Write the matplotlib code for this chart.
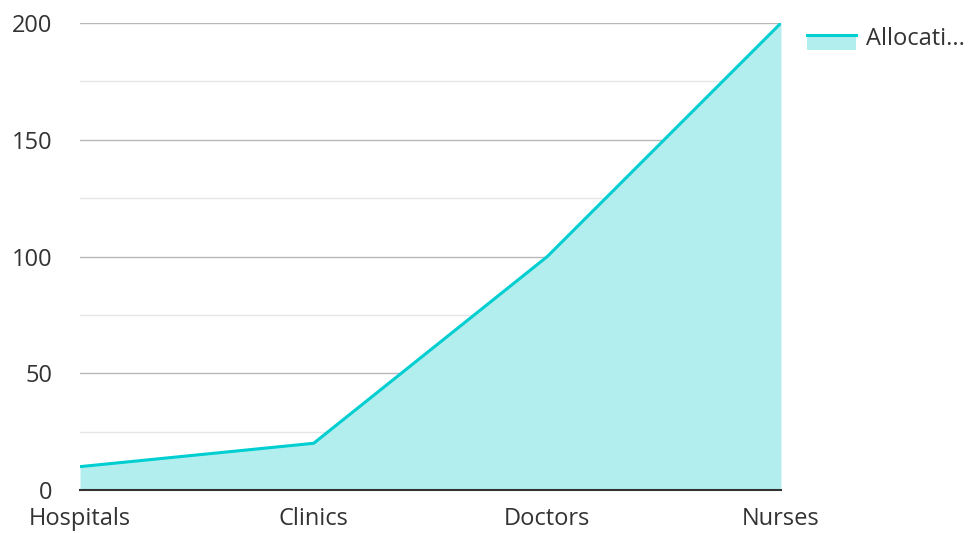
import matplotlib.pyplot as plt
from matplotlib.legend_handler import HandlerBase
from matplotlib.patches import Rectangle
from matplotlib.lines import Line2D

plt.rcParams['font.family'] = ['Open Sans', 'DejaVu Sans']

categories = ['Hospitals', 'Clinics', 'Doctors', 'Nurses']
allocation = [10, 20, 100, 200]
legend_label = 'Allocati...'
line_color = '#00CED1'
fill_color = '#B2EEEE'


class AreaHandler(HandlerBase):
    # filled box with the line along its top edge
    def create_artists(self, legend, orig_handle, xdescent, ydescent,
                       width, height, fontsize, trans):
        top = height * 0.62
        bottom = -height * 0.25
        rect = Rectangle((-xdescent, bottom - ydescent), width, top - bottom,
                         facecolor=fill_color, edgecolor='none', transform=trans)
        line = Line2D([-xdescent, -xdescent + width], [top - ydescent] * 2,
                      color=line_color, lw=2.2, transform=trans)
        return [rect, line]


fig = plt.figure(figsize=(9.71, 5.33), dpi=100)
ax = fig.add_axes([0.0824, 0.0807, 0.7219, 0.8761])

x = list(range(len(categories)))
ax.fill_between(x, allocation, 0, color=fill_color, lw=0, zorder=2)
area_line, = ax.plot(x, allocation, color=line_color, lw=2.2, zorder=3,
                     solid_capstyle='butt')

ax.set_xlim(0, len(categories) - 1)
ax.set_ylim(0, 200)
ax.set_yticks([0, 50, 100, 150, 200])
ax.set_yticks([25, 75, 125, 175], minor=True)
ax.set_xticks(x)
ax.set_xticklabels(categories)
ax.grid(axis='y', which='major', color='#b8b8b8', lw=1, zorder=1)
ax.grid(axis='y', which='minor', color='#e6e6e6', lw=1, zorder=1)
ax.grid(axis='x', visible=False)

for s in ['top', 'right', 'left']:
    ax.spines[s].set_visible(False)
ax.spines['bottom'].set_color('#333333')
ax.spines['bottom'].set_linewidth(1.5)
ax.spines['bottom'].set_zorder(4)

ax.tick_params(axis='both', which='both', length=0, labelsize=17, colors='#333333')
ax.tick_params(axis='y', pad=20)
ax.tick_params(axis='x', pad=12)

ax.legend([area_line], [legend_label], handler_map={area_line: AreaHandler()},
          loc='upper left', bbox_to_anchor=(1.013, 1.026), frameon=False,
          fontsize=17, handlelength=2.1, handletextpad=0.4, borderaxespad=0.3,
          labelcolor='#333333')

fig.savefig('out.png', dpi=100)
